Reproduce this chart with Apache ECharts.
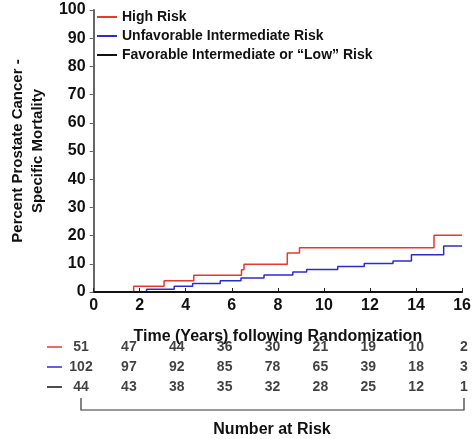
<!DOCTYPE html>
<html><head><meta charset="utf-8">
<script src="https://cdn.jsdelivr.net/npm/echarts@6/dist/echarts.min.js"></script>
<style>html,body{margin:0;padding:0;background:#fff}#c{width:474px;height:439px}</style>
</head><body><div id="c"></div>
<script>
const highT = [0, 1.74, 3.06, 4.35, 6.42, 6.53, 8.41, 8.94, 14.78, 16];
const highV = [0, 2.0, 4.0, 5.9, 7.9, 9.8, 13.8, 15.7, 20.1, 20.1];
const unfT = [0, 2.3, 3.5, 4.3, 5.5, 6.4, 7.4, 8.65, 9.25, 10.6, 11.75, 13.0, 13.8, 15.2, 16];
const unfV = [0, 1.0, 2.0, 3.0, 4.0, 5.0, 6.0, 7.1, 8.0, 9.0, 10.1, 11.0, 13.2, 16.3, 16.3];
const favT = [0, 16];
const favV = [0, 0];
const riskTimes = [0, 2, 4, 6, 8, 10, 12, 14, 16];
const riskHigh = [51, 47, 44, 36, 30, 21, 19, 10, 2];
const riskUnf = [102, 97, 92, 85, 78, 65, 39, 18, 3];
const riskFav = [44, 43, 38, 35, 32, 28, 25, 12, 1];
const names = ['High Risk', 'Unfavorable Intermediate Risk', 'Favorable Intermediate or \u201cLow\u201d Risk'];
const colors = ['#e8392b', '#2b2bd6', '#111111'];
const F = 'Liberation Sans, Arial, sans-serif';
const zip = (a, b) => a.map((t, i) => [t, b[i]]);
const riskRows = [riskHigh, riskUnf, riskFav];
const riskData = [];
riskRows.forEach((row, r) => row.forEach((v, i) => riskData.push([riskTimes[i], r, v])));
const chart = echarts.init(document.getElementById('c'));
chart.setOption({
  animation: false,
  textStyle: {fontFamily: F},
  grid: [{left: 81, right: 10, top: 10, height: 282},
         {left: 81, right: 10, top: 337, height: 60}],
  legend: {left: 92, top: 5, orient: 'vertical', itemGap: 5, itemWidth: 20, itemHeight: 2, icon: 'rect',
    textStyle: {fontFamily: F, fontWeight: 'bold', fontSize: 14, color: '#111'},
    data: names},
  xAxis: [{type: 'value', min: 0, max: 16, interval: 2, gridIndex: 0,
    name: 'Time (Years) following Randomization', nameLocation: 'middle', nameGap: 37,
    nameTextStyle: {fontFamily: F, fontWeight: 'bold', fontSize: 16, color: '#111'},
    axisLine: {lineStyle: {color: '#222', width: 2}},
    axisTick: {inside: true, length: 4, lineStyle: {color: '#222'}},
    axisLabel: {fontFamily: F, fontWeight: 'bold', fontSize: 16, color: '#111', margin: 6},
    splitLine: {show: false}},
   {type: 'value', min: 0, max: 16, gridIndex: 1, show: false}],
  yAxis: [{type: 'value', min: 0, max: 100, interval: 10, gridIndex: 0,
    name: 'Percent Prostate Cancer -\nSpecific Mortality', nameLocation: 'middle', nameGap: 45,
    nameTextStyle: {fontFamily: F, fontWeight: 'bold', fontSize: 15, color: '#111', lineHeight: 20},
    axisLine: {show: true, lineStyle: {color: '#666', width: 2}},
    axisTick: {show: true, length: 4, lineStyle: {color: '#666'}},
    axisLabel: {fontFamily: F, fontWeight: 'bold', fontSize: 16, color: '#111', margin: 8},
    splitLine: {show: false}},
   {type: 'category', data: ['a', 'b', 'c'], inverse: true, gridIndex: 1, show: false}],
  series: [
    {name: names[0], type: 'line', step: 'end', symbol: 'none', data: zip(highT, highV), lineStyle: {color: colors[0], width: 1.5}, itemStyle: {color: colors[0]}},
    {name: names[1], type: 'line', step: 'end', symbol: 'none', data: zip(unfT, unfV), lineStyle: {color: colors[1], width: 1.5}, itemStyle: {color: colors[1]}},
    {name: names[2], type: 'line', step: 'end', symbol: 'none', data: zip(favT, favV), lineStyle: {color: colors[2], width: 2}, itemStyle: {color: colors[2]}},
    {type: 'scatter', xAxisIndex: 1, yAxisIndex: 1, symbolSize: 0, data: riskData,
      label: {show: true, position: 'inside', formatter: p => p.value[2], fontFamily: F, fontWeight: 'bold', fontSize: 14, color: '#111'}}
  ],
  graphic: [
    {type: 'line', shape: {x1: 47, y1: 347, x2: 62, y2: 347}, style: {stroke: colors[0], lineWidth: 1.5}},
    {type: 'line', shape: {x1: 47, y1: 367, x2: 62, y2: 367}, style: {stroke: colors[1], lineWidth: 1.5}},
    {type: 'line', shape: {x1: 47, y1: 387, x2: 62, y2: 387}, style: {stroke: colors[2], lineWidth: 1.5}},
    {type: 'polyline', shape: {points: [[81, 398], [81, 410], [464, 410], [464, 398]]}, style: {stroke: '#333', lineWidth: 1.2, fill: null}},
    {type: 'text', x: 272, y: 430, style: {text: 'Number at Risk', font: 'bold 16px ' + F, fill: '#111', align: 'center', verticalAlign: 'middle'}}
  ]
});
</script></body></html>
